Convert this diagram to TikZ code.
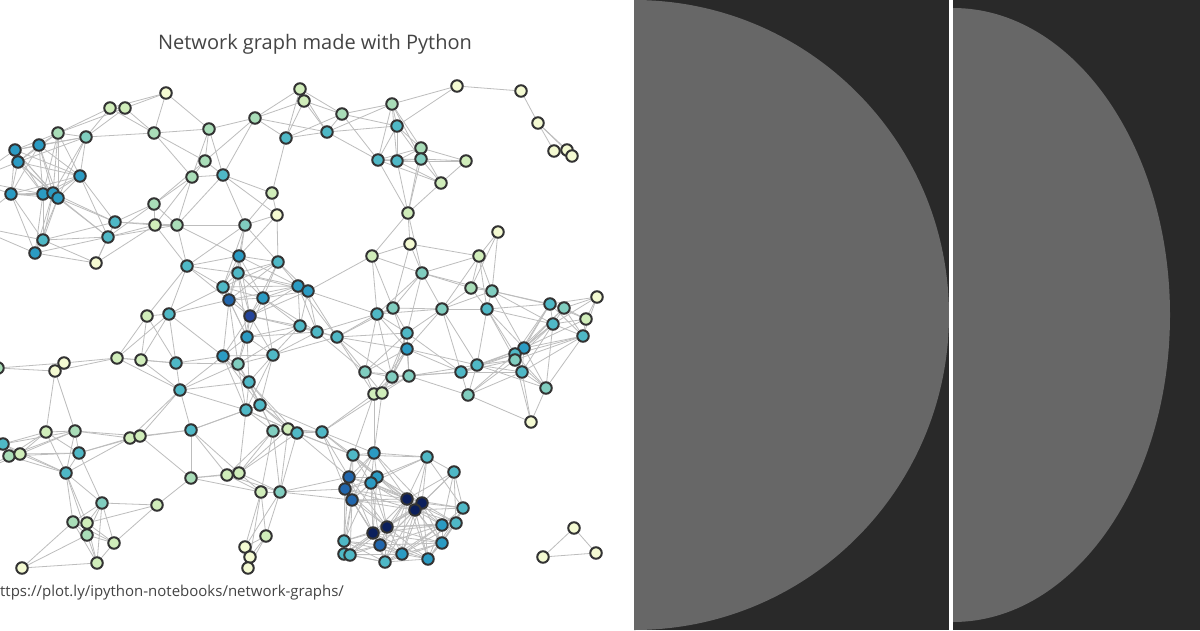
\documentclass[tikz,border=0pt]{standalone}
\usepackage{fontspec}
\setmainfont{Open Sans}
\usetikzlibrary{calc}

\definecolor{lv1}{HTML}{F4FAD2}
\definecolor{lv2}{HTML}{D0EDBA}
\definecolor{lv3}{HTML}{A9DDB8}
\definecolor{lv4}{HTML}{80CDBF}
\definecolor{lv5}{HTML}{4FB8C6}
\definecolor{lv6}{HTML}{2B9BC3}
\definecolor{lv7}{HTML}{2166AC}
\definecolor{lv8}{HTML}{24449A}
\definecolor{lv9}{HTML}{0B1F5C}
\definecolor{rim}{HTML}{333333}
\definecolor{wire}{HTML}{BDBDBD}
\definecolor{inkgray}{HTML}{444444}
\definecolor{panel}{HTML}{292929}
\definecolor{disc}{HTML}{676767}

\pgfdeclarelayer{background}
\pgfsetlayers{background,main}

% x/y/colour level of every point of the graph
\def\nodelist{166/93/1, 110/108/2, 125/108/2, 58/133/3, 86/137/4, 154/133/3, 209/129/3,
15/150/6, 39/145/6, 18/162/6, 205/161/3, 80/176/6, 192/177/3, 223/175/5,
11/194/6, 43/194/6, 53/193/6, 58/198/6, 154/204/3, 115/222/5, 155/225/2,
177/225/3, 108/237/5, 43/240/5, 35/253/6, 96/263/1,
300/89/2, 304/101/2, 255/118/3, 342/114/3, 392/104/3, 286/138/5, 327/132/5,
397/126/5, 378/160/5, 397/161/5, 421/148/3, 421/159/4, 466/161/2, 441/183/2,
272/193/2, 277/215/1, 245/225/4, 408/213/2, 410/244/1, 498/232/1,
457/86/1, 521/91/1, 538/123/1, 554/151/1, 567/150/1, 572/156/1,
239/256/6, 278/262/5, 187/266/5, 238/273/5, 223/287/5, 229/300/7, 263/298/6,
250/316/8, 298/286/6, 308/291/6, 147/316/2, 169/314/5, 300/326/5, 317/332/5,
337/337/5, 247/337/6, 223/356/6, 273/355/5, 238/364/4, 249/382/5, 246/410/5,
260/405/5, 176/363/5, 180/390/5, 117/358/2, 141/360/2, 64/363/1, 55/371/1,
-2/368/3,
372/256/2, 479/256/2, 422/273/4, 471/288/3, 492/291/4, 377/314/5, 393/308/4,
442/309/4, 487/309/5, 550/304/5, 564/308/4, 597/297/1, 586/319/2, 553/324/5,
583/336/5, 407/333/5, 407/349/6, 524/348/6, 515/354/5, 515/360/4, 365/372/4,
392/377/4, 409/376/4, 477/365/5, 461/372/5, 522/372/5, 374/394/2, 382/393/2,
546/388/4, 468/395/4, 531/422/1,
3/444/5, 46/432/2, 75/431/3, 9/456/3, 20/454/2, 79/453/5, 66/473/5, 130/438/2,
140/436/2, 191/430/5, 191/478/3, 102/503/4, 157/505/2, 73/522/3, 87/523/2,
87/535/3, 114/543/2, 22/568/1, 97/563/2,
273/431/4, 288/429/2, 297/433/5, 322/432/5, 227/475/2, 239/473/2, 261/492/2,
280/492/4, 266/536/2, 245/547/1, 250/557/1, 248/568/1,
353/455/5, 374/453/6, 349/477/7, 345/489/7, 352/500/7, 377/477/6, 371/483/6,
407/499/9, 422/503/9, 415/510/9, 427/457/5, 454/472/5, 463/508/5, 442/525/6,
456/523/5, 442/543/6, 373/533/9, 387/527/9, 380/545/7, 344/541/5, 344/554/5,
350/555/5, 385/562/5, 402/554/6, 428/559/6,
574/528/1, 543/557/1, 596/553/1,
-28/180/5, -30/225/5, -25/340/4, -30/400/4, -28/475/4}

\begin{document}
\begin{tikzpicture}[x=1pt,y=-1pt,
	dot/.style={circle,draw=rim,line width=2pt,minimum size=11.5pt,inner sep=0pt},
	link/.style={draw=wire,line width=0.8pt},
	heading/.style={text=inkgray,font=\fontsize{20}{24}\selectfont},
	source/.style={text=inkgray,font=\fontsize{15}{18}\selectfont,anchor=west,inner sep=0pt}]
	\useasboundingbox (0,0) rectangle (1200,630);

	% right hand panels
	\fill[panel] (634,0) rectangle (1200,630);
	\begin{scope}
		\clip (634,0) rectangle (949,630);
		\fill[disc] (634,315) circle (315pt);
	\end{scope}
	\fill[white] (949,0) rectangle (953,630);
	\begin{scope}
		\clip (953,0) rectangle (1200,630);
		\fill[disc] (953,315) ellipse (217pt and 307pt);
	\end{scope}

	\node[heading] (title) at (315,44) {Network graph made with Python};
	\node[source] (url) at (0,593) {ttps://plot.ly/ipython-notebooks/network-graphs/};

	\foreach \x/\y/\l [count=\k] in \nodelist
		\node[dot,fill=lv\l] (n\k) at (\x,\y) {};

	% points closer than the radius are linked
	\begin{pgfonlayer}{background}
	\fill[white] (0,0) rectangle (634,630);
	\foreach \xa/\ya/\la [count=\i] in \nodelist {
		\foreach \xb/\yb/\lb [count=\j] in \nodelist {
			\ifnum\j>\i
				\pgfmathtruncatemacro\near{((\xa-\xb)/76)^2+((\ya-\yb)/66)^2<1}
				\ifnum\near=1 \draw[link] (n\i) -- (n\j);\fi
			\fi
		}
	}
	\end{pgfonlayer}
\end{tikzpicture}
\end{document}
